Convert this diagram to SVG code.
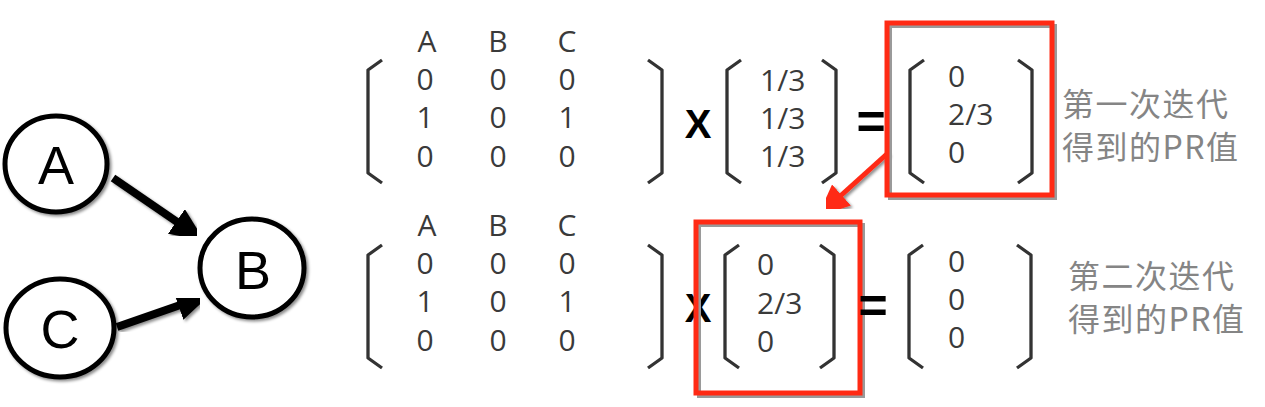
<svg xmlns="http://www.w3.org/2000/svg" width="1265" height="407" viewBox="0 0 1265 407">
<style>
.node{fill:#fff;stroke:#000;stroke-width:5}
.nl{font-family:"Liberation Sans",Arial,sans-serif;font-size:54px;fill:#000;text-anchor:middle}
.m{font-family:"Open Sans","DejaVu Sans",sans-serif;font-size:30px;fill:#3a3a3a}
.mc{text-anchor:middle}
.br{fill:none;stroke:#333;stroke-width:3.3;stroke-linejoin:round}
.op{font-family:"Liberation Sans",Arial,sans-serif;font-weight:bold;fill:#000;text-anchor:middle}
.cn{font-family:"Noto Sans CJK SC",sans-serif;font-size:32px;letter-spacing:1.5px;fill:#858585}
.rb{fill:none;stroke:#ff2a14;stroke-width:5}
.rs{fill:none;stroke:#9a9a9a;stroke-width:4}
.edge{stroke:#000;stroke-width:8;fill:none}
</style>
<defs>
<filter id="sh" x="-20%" y="-20%" width="140%" height="140%">
<feDropShadow dx="2" dy="2" stdDeviation="1.5" flood-color="#000" flood-opacity="0.45"/>
</filter>
<marker id="ah" markerUnits="userSpaceOnUse" markerWidth="36" markerHeight="32" refX="8" refY="15" orient="auto">
<path d="M0,0 L34,15 L0,30 z" fill="#000"/>
</marker>
<marker id="rah" markerUnits="userSpaceOnUse" markerWidth="34" markerHeight="30" refX="6" refY="14" orient="auto">
<path d="M0,0 L32,14 L0,28 z" fill="#ff2a14"/>
</marker>
<path id="lb" class="br" d="M15,0 L1,10 L1,113 L15,123"/>
<path id="rbk" class="br" d="M1,0 L15,10 L15,113 L1,123"/>
</defs>

<g id="connectors">
<line class="edge" x1="113" y1="178" x2="183" y2="226" marker-end="url(#ah)" filter="url(#sh)"/>
<line class="edge" x1="117" y1="327" x2="186" y2="303" marker-end="url(#ah)" filter="url(#sh)"/>
<line x1="888" y1="153" x2="837" y2="199" stroke="#ff2a14" stroke-width="5" marker-end="url(#rah)" filter="url(#sh)"/>
</g>

<g id="node-A">
<ellipse class="node" cx="56" cy="164" rx="51" ry="48" filter="url(#sh)"/>
<text class="nl" x="56" y="184">A</text>
</g>
<g id="node-B">
<ellipse class="node" cx="252" cy="268" rx="52" ry="49" filter="url(#sh)"/>
<text class="nl" x="253" y="289">B</text>
</g>
<g id="node-C">
<ellipse class="node" cx="60" cy="328" rx="54" ry="49" filter="url(#sh)"/>
<text class="nl" x="60" y="348">C</text>
</g>

<g id="matrix-top">
<text class="m mc" x="427" y="52">A</text>
<text class="m mc" x="498" y="52">B</text>
<text class="m mc" x="567" y="52">C</text>
<use href="#lb" x="367" y="60"/>
<use href="#rbk" x="647" y="60"/>
<text class="m mc" x="425" y="90">0</text><text class="m mc" x="498" y="90">0</text><text class="m mc" x="567" y="90">0</text>
<text class="m mc" x="425" y="128">1</text><text class="m mc" x="498" y="128">0</text><text class="m mc" x="567" y="128">1</text>
<text class="m mc" x="425" y="167">0</text><text class="m mc" x="498" y="167">0</text><text class="m mc" x="567" y="167">0</text>
</g>
<g id="op-x-top"><text class="op" x="698" y="138" font-size="40">X</text></g>
<g id="vec-third">
<use href="#lb" x="726" y="60"/>
<use href="#rbk" x="821" y="60"/>
<text class="m" x="760" y="91">1/3</text>
<text class="m" x="760" y="129">1/3</text>
<text class="m" x="760" y="167">1/3</text>
</g>
<g id="op-eq-top"><text class="op" x="871" y="139" font-size="50">=</text></g>
<g id="result1">
<rect class="rs" x="890" y="26" width="165" height="172"/>
<rect class="rb" x="887" y="23" width="165" height="172"/>
<use href="#lb" x="909" y="60"/>
<use href="#rbk" x="1017" y="60"/>
<text class="m" x="948" y="87">0</text>
<text class="m" x="948" y="125">2/3</text>
<text class="m" x="948" y="163">0</text>
</g>
<g id="label1">
<text class="cn" x="1062" y="116">第一次迭代</text>
<text class="cn" x="1062" y="159">得到的PR值</text>
</g>

<g id="matrix-bottom">
<text class="m mc" x="427" y="236">A</text>
<text class="m mc" x="498" y="236">B</text>
<text class="m mc" x="567" y="236">C</text>
<use href="#lb" x="367" y="245"/>
<use href="#rbk" x="647" y="245"/>
<text class="m mc" x="425" y="274">0</text><text class="m mc" x="498" y="274">0</text><text class="m mc" x="567" y="274">0</text>
<text class="m mc" x="425" y="312">1</text><text class="m mc" x="498" y="312">0</text><text class="m mc" x="567" y="312">1</text>
<text class="m mc" x="425" y="351">0</text><text class="m mc" x="498" y="351">0</text><text class="m mc" x="567" y="351">0</text>
</g>
<g id="op-x-bottom"><text class="op" x="698" y="322" font-size="40">X</text></g>
<g id="result1-copy">
<rect class="rs" x="699" y="225" width="164" height="171"/>
<rect class="rb" x="696" y="222" width="164" height="171"/>
<use href="#lb" x="724" y="245"/>
<use href="#rbk" x="819" y="245"/>
<text class="m" x="757" y="275">0</text>
<text class="m" x="757" y="314">2/3</text>
<text class="m" x="757" y="352">0</text>
</g>
<g id="op-eq-bottom"><text class="op" x="873" y="323" font-size="50">=</text></g>
<g id="result2">
<use href="#lb" x="908" y="245"/>
<use href="#rbk" x="1016" y="245"/>
<text class="m" x="948" y="272">0</text>
<text class="m" x="948" y="310">0</text>
<text class="m" x="948" y="348">0</text>
</g>
<g id="label2">
<text class="cn" x="1068" y="288">第二次迭代</text>
<text class="cn" x="1068" y="331">得到的PR值</text>
</g>
</svg>
